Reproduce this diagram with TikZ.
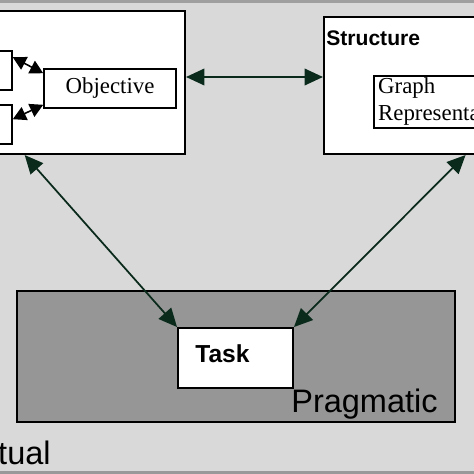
\documentclass[tikz,border=0pt]{standalone}
\usepackage{fontspec}
\setmainfont{Liberation Serif}
\setsansfont{Liberation Sans}
\usetikzlibrary{arrows.meta, positioning, calc}

\definecolor{bgray}{HTML}{D9D9D9}
\definecolor{pgray}{HTML}{969696}
\definecolor{darkgreen}{HTML}{0A2A1C}

\begin{document}
\begin{tikzpicture}[
    x=0.02cm, y=-0.02cm,
    outerbox/.style={rectangle, draw, fill=white, line width=1.2pt, inner sep=0pt},
    innerbox/.style={rectangle, draw, fill=white, line width=0.9pt, inner sep=0pt},
    serifnote/.style={font=\fontsize{13}{15.6}\selectfont\rmfamily},
    boldnote/.style={font=\fontsize{12}{14}\selectfont\sffamily\bfseries, anchor=base west, inner sep=0pt},
    bignote/.style={font=\fontsize{18.5}{22}\selectfont\sffamily, inner sep=0pt},
    arrow/.style={{Triangle[length=10.5pt,width=9.5pt]}-{Triangle[length=10.5pt,width=9.5pt]}, darkgreen, line width=1pt},
    smallarrow/.style={{Triangle[length=7.5pt,width=8pt]}-{Triangle[length=7.5pt,width=8pt]}, black, line width=0.9pt}
]
\useasboundingbox (0,0) rectangle (474,474);
\clip (0,0) rectangle (474,474);

% Background
\fill[bgray] (0,0) rectangle (474,474);
\fill[gray!75] (0,0) rectangle (474,3);
\fill[gray!120!black] (0,471) rectangle (474,474);

% Pragmatic layer
\node[rectangle, draw, fill=pgray, line width=0.9pt, inner sep=0pt,
      minimum width=8.76cm, minimum height=2.62cm] (pragmatic) at (236,356.5) {};
\node[bignote, anchor=base west] (praglabel) at (291,412) {Pragmatic};
\node[bignote, anchor=base east] (conclabel) at (51,464) {Conceptual};

% Left block
\node[outerbox, minimum width=4.9cm, minimum height=2.86cm] (concept) at (62.5,82.5) {};
\node[innerbox, minimum width=1.04cm, minimum height=0.78cm] (subA) at (-14,70.5) {};
\node[innerbox, minimum width=1.04cm, minimum height=0.78cm] (subB) at (-14,124.5) {};
\node[innerbox, serifnote, minimum width=2.64cm, minimum height=0.78cm] (objective) at (110,88.5) {Objective};

% Structure block
\node[outerbox, minimum width=3.92cm, minimum height=2.74cm] (structure) at (422,85.5) {};
\node[boldnote] (structlabel) at (326,45) {Structure};
\node[innerbox, serifnote, anchor=north west, minimum width=2.94cm, minimum height=1.04cm,
      text width=2.8cm, align=left, inner xsep=2.5pt] (graph) at (373,75) {Graph\\Representation};

% Task
\node[innerbox, line width=1.1pt, minimum width=2.3cm, minimum height=1.2cm] (task) at (235.5,358) {};
\node[boldnote, font=\fontsize{14}{16}\selectfont\sffamily\bfseries] (tasklabel) at (195,362) {Task};

% Arrows
\draw[smallarrow] ([yshift=-0.14cm]subA.north east) -- ([yshift=-0.1cm]objective.north west);
\draw[smallarrow] ([yshift=-0.3cm]subB.north east) -- ([yshift=0.08cm]objective.south west);
\draw[arrow] ([yshift=0.11cm]concept.east) -- ([yshift=0.17cm]structure.west);
\draw[arrow] ($(concept.south west)!0.347!(concept.south east)$) -- (task.north west);
\draw[arrow] ($(structure.south west)!0.72!(structure.south east)$) -- (task.north east);

\end{tikzpicture}
\end{document}
